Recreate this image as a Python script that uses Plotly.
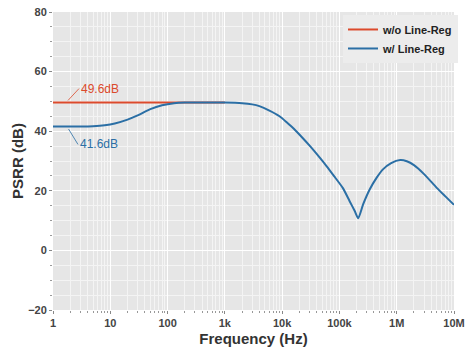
import plotly.graph_objects as go

# ---- data ----
freq_wo = [1, 3, 10, 30, 100, 300, 1000]
psrr_wo = [49.6, 49.6, 49.6, 49.6, 49.6, 49.6, 49.6]

freq_w = [1, 3, 5, 8, 12, 20, 30, 50, 80, 130, 200, 500, 1000, 2000, 3000, 4000,
          6000, 9000, 12000, 15500, 20000, 31000, 45000, 60000, 80000, 115000,
          150000, 185000, 213000, 260000, 339000, 450000, 575000, 800000,
          1150000, 1500000, 2000000, 3000000, 5000000, 7000000, 10000000]
psrr_w = [41.6, 41.6, 41.7, 42.0, 42.6, 43.9, 45.3, 47.4, 48.7, 49.4, 49.6, 49.6, 49.6,
          49.4, 49.0, 48.4, 46.9, 45.0, 43.0, 41.1, 38.9, 34.9, 31.2, 28.2, 25.0, 20.9,
          16.6, 13.2, 10.8, 15.5, 20.5, 24.5, 27.2, 29.3, 30.3, 29.9, 28.6, 25.6,
          21.0, 18.2, 15.3]

y_tickvals = [-20, 0, 20, 40, 60, 80]
x_tickvals = [1, 10, 100, 1e3, 1e4, 1e5, 1e6, 1e7]
x_ticktext = ["1", "10", "100", "1k", "10k", "100k", "1M", "10M"]
x_minor = [m * d for d in [1, 10, 100, 1e3, 1e4, 1e5, 1e6] for m in range(2, 10)]

RED = "#dc4a2c"
BLUE = "#2b6fa5"
FONT = "Liberation Sans, Arial, sans-serif"

fig = go.Figure()
fig.add_trace(go.Scatter(x=freq_wo, y=psrr_wo, mode="lines", name="w/o Line-Reg",
                         line=dict(color=RED, width=2)))
fig.add_trace(go.Scatter(x=freq_w, y=psrr_w, mode="lines", name="w/ Line-Reg",
                         line=dict(color=BLUE, width=2, shape="spline", smoothing=0.6)))

fig.add_annotation(x=0.227, y=psrr_wo[0], xref="x", yref="y", text="49.6dB",
                   ax=13, ay=-14, showarrow=True, arrowhead=0, arrowwidth=0.8,
                   arrowcolor=RED, xanchor="left", yanchor="middle", standoff=3,
                   font=dict(color=RED, size=12, family=FONT))
fig.add_annotation(x=0.244, y=psrr_w[0], xref="x", yref="y", text="41.6dB",
                   ax=11, ay=18, showarrow=True, arrowhead=0, arrowwidth=0.8,
                   arrowcolor=BLUE, xanchor="left", yanchor="middle", standoff=3,
                   font=dict(color=BLUE, size=12, family=FONT))

fig.update_layout(
    width=474, height=357,
    margin=dict(l=53, r=20, t=12, b=47),
    paper_bgcolor="white",
    plot_bgcolor="#e6e6e6",
    font=dict(family=FONT, color="#333333"),
    showlegend=True,
    legend=dict(x=1.01, y=0.99, xanchor="right", yanchor="top",
                bgcolor="#ececec", borderwidth=0,
                font=dict(size=11, color="#222222", family=FONT, weight="bold"),
                tracegroupgap=0, itemwidth=30),
)
fig.update_xaxes(
    type="log", range=[0, 7], automargin=False, ticklabeloverflow="allow",
    tickmode="array", tickvals=x_tickvals, ticktext=x_ticktext,
    ticks="outside", ticklen=3, tickcolor="#888888",
    tickfont=dict(size=11, color="#444444", weight="bold"),
    showgrid=True, gridcolor="#ffffff", gridwidth=1,
    minor=dict(tickvals=x_minor, ticks="outside", ticklen=2, tickcolor="#999999",
               showgrid=True, gridcolor="#f4f4f4", gridwidth=1),
    zeroline=False, showline=False,
    title=dict(text="Frequency (Hz)", font=dict(size=15, color="#333333", weight="bold"),
               standoff=5),
)
fig.update_yaxes(
    range=[-20, 80], tickvals=y_tickvals, automargin=False, ticklabeloverflow="allow",
    ticks="outside", ticklen=3, tickcolor="#888888",
    tickfont=dict(size=11, color="#444444", weight="bold"),
    showgrid=True, gridcolor="#ffffff", gridwidth=1,
    minor=dict(dtick=5, ticks="outside", ticklen=2, tickcolor="#999999",
               showgrid=True, gridcolor="#f4f4f4", gridwidth=1),
    zeroline=False, showline=False,
    title=dict(text="PSRR (dB)", font=dict(size=15, color="#333333", weight="bold"),
               standoff=0),
)

fig.write_html("out.html", config={"displayModeBar": False},
               post_script="document.body.style.margin='0';")
